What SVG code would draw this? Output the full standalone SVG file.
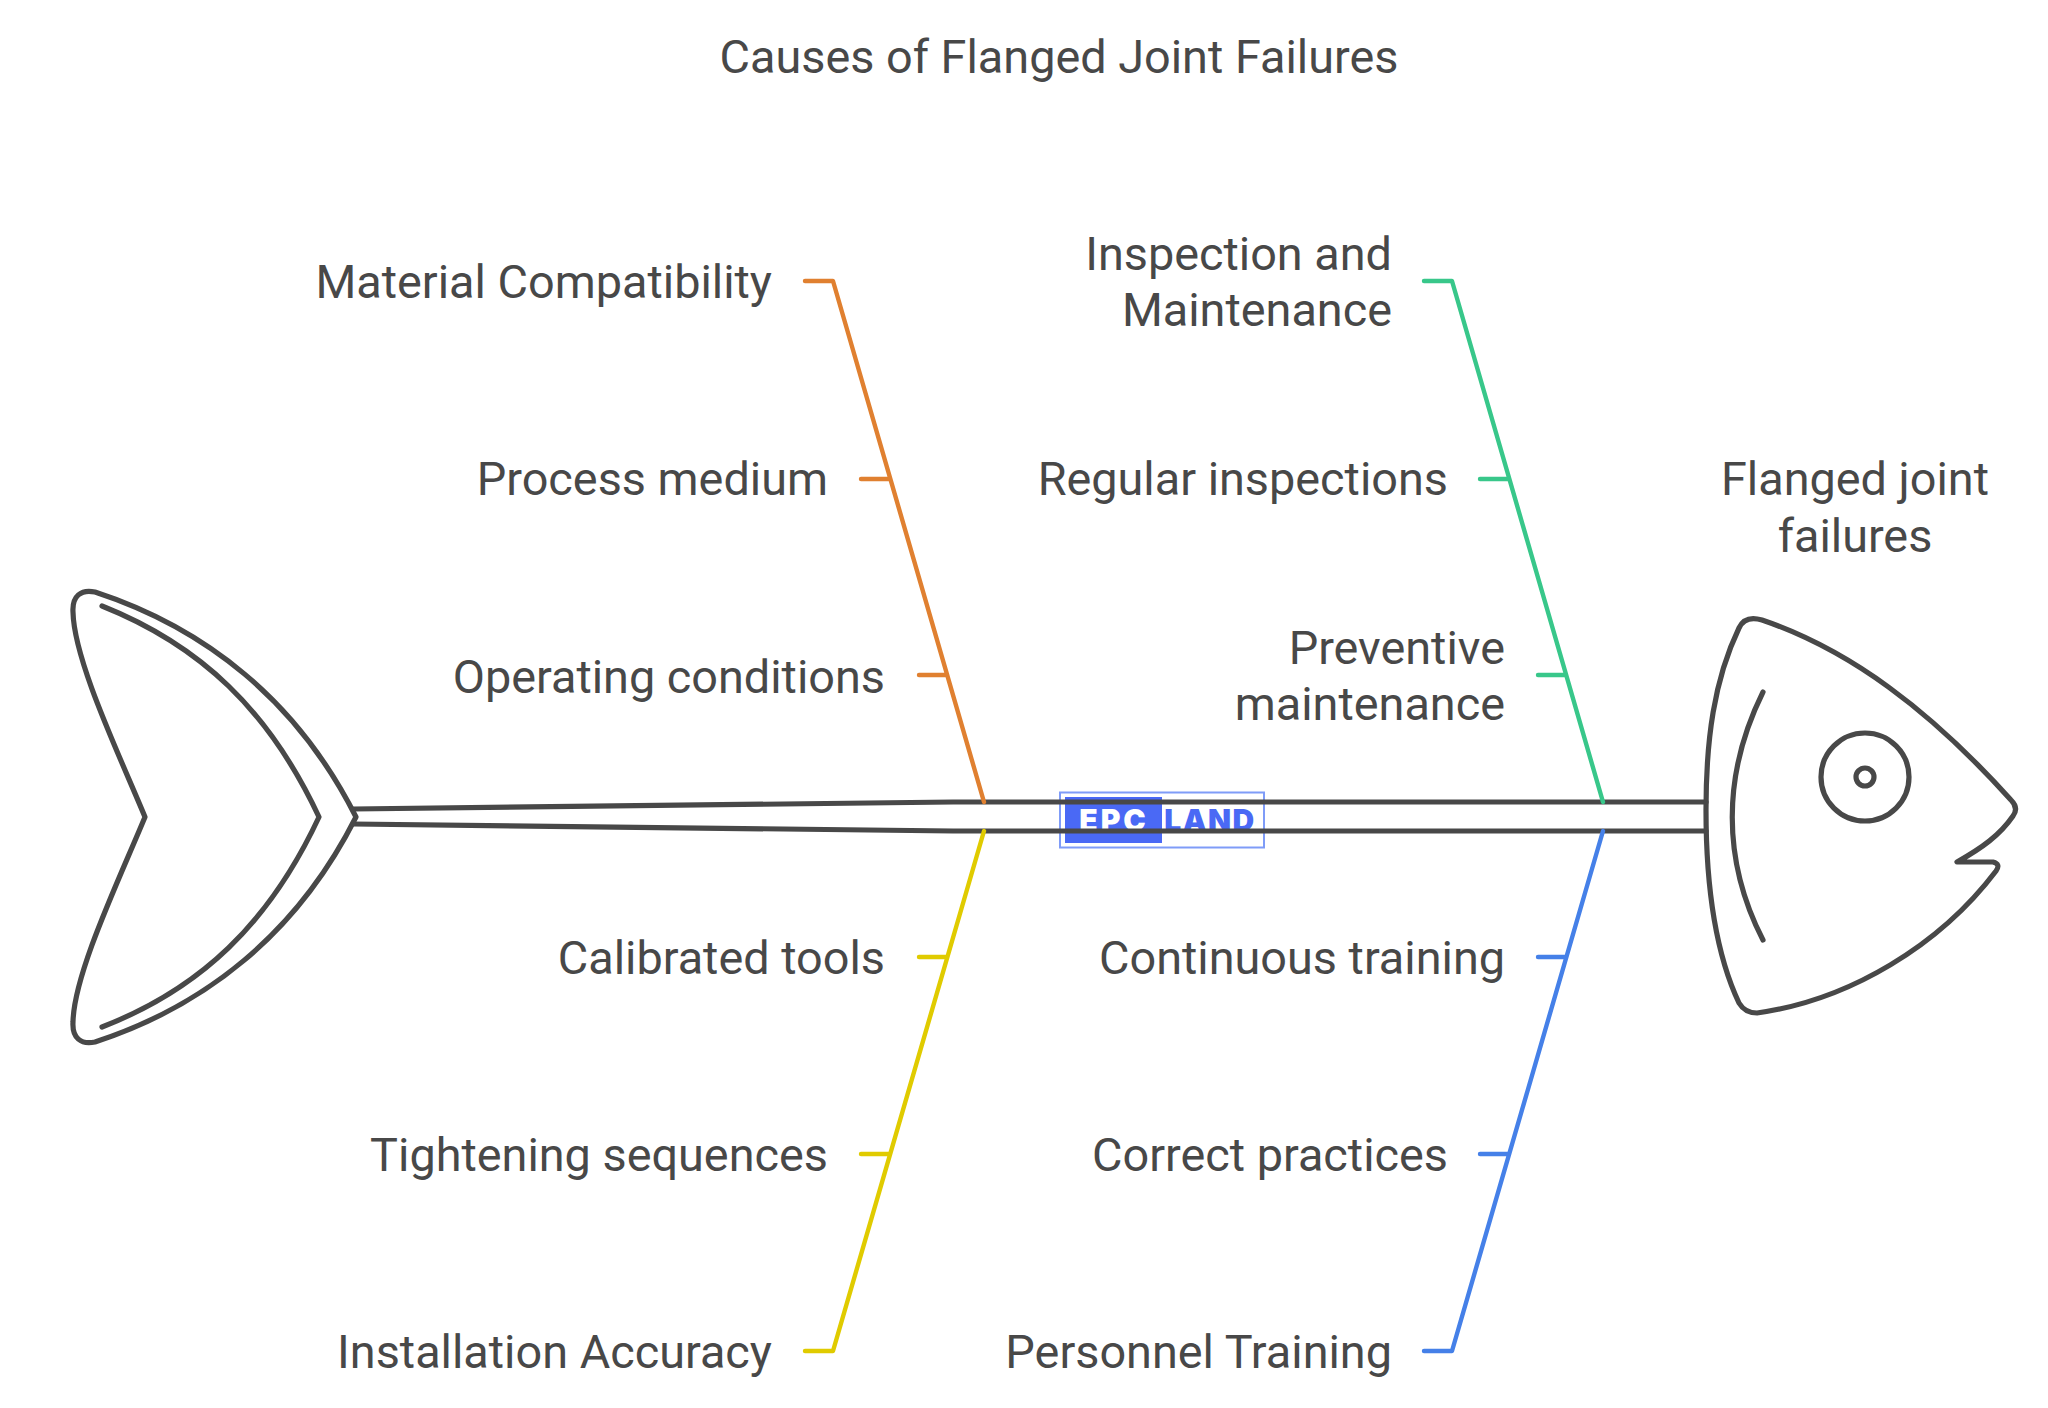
<svg xmlns="http://www.w3.org/2000/svg" width="2048" height="1408" viewBox="0 0 2048 1408">
<style>
text{font-family:Roboto,"Liberation Sans",sans-serif;font-size:46.8px;fill:#484848}
.e{text-anchor:end}.m{text-anchor:middle}
.o{fill:none;stroke:#484848;stroke-width:5.2;stroke-linecap:round;stroke-linejoin:round}
.b{fill:none;stroke-width:4.4;stroke-linecap:round;stroke-linejoin:round}
</style>
<rect width="2048" height="1408" fill="#fff"/>
<text id="title" class="m" x="1059" y="73">Causes of Flanged Joint Failures</text>
<g id="logo">
<rect x="1060" y="792.5" width="204" height="55" fill="#fff" stroke="#7f9cf8" stroke-width="2"/>
<rect x="1065" y="797" width="97" height="46" fill="#4a69f5"/>
<text x="1114" y="831" class="m" style="font-family:Inter,sans-serif;font-size:30px;font-weight:900;fill:#fff;letter-spacing:3px">EPC</text>
<text x="1210" y="831" class="m" style="font-family:Inter,sans-serif;font-size:30px;font-weight:900;fill:#4a69f5;letter-spacing:1.5px">LAND</text>
</g>
<g id="connectors">
<path class="o" d="M353 809L953 802H1706"/>
<path class="o" d="M353 824L953 831H1706"/>
<path class="b" stroke="#e08030" d="M805 281H833L984 802M861 479H889M919 675H947"/>
<path class="b" stroke="#e0cb00" d="M805 1351H833L984 831M861 1154H889M919 957H947"/>
<path class="b" stroke="#38c78a" d="M1424 281H1452L1603 802M1480 479H1509M1538 675H1566"/>
<path class="b" stroke="#4580e8" d="M1424 1351H1452L1603 831M1480 1154H1509M1538 957H1566"/>
</g>
<g id="tail">
<path class="o" d="M145 817C118 752 74 660 73 612C72 596 81 589 95 592C205 628 297 700 356 817C297 934 205 1006 95 1042C81 1045 72 1038 73 1022C74 974 118 882 145 817Z"/>
<path class="o" d="M102 606C200 645 269 710 319 817C269 924 200 989 102 1027"/>
</g>
<g id="head">
<path class="o" d="M1762 620C1850 650 1930 710 2011 800Q2019 808 2013 816C2000 835 1982 848 1957 862H1993Q2001 864 1996 871C1940 945 1850 1000 1757 1013Q1745 1013 1739 1003C1714 950 1706 880 1706 810C1706 740 1714 680 1739 628Q1745 615 1762 620Z"/>
<path class="o" d="M1763 692C1722 775 1722 860 1763 940"/>
<circle class="o" cx="1865" cy="777" r="44"/>
<circle class="o" cx="1865" cy="777" r="9"/>
</g>
<g id="labels">
<text class="e" x="772" y="297.5">Material Compatibility</text>
<text class="e" x="828" y="495">Process medium</text>
<text class="e" x="885" y="692.5">Operating conditions</text>
<text class="e" x="885" y="974">Calibrated tools</text>
<text class="e" x="828" y="1171">Tightening sequences</text>
<text class="e" x="772" y="1368">Installation Accuracy</text>
<text class="e" x="1392" y="270">Inspection and</text>
<text class="e" x="1392" y="326">Maintenance</text>
<text class="e" x="1448" y="495">Regular inspections</text>
<text class="e" x="1505" y="664">Preventive</text>
<text class="e" x="1505" y="720">maintenance</text>
<text class="e" x="1505" y="974">Continuous training</text>
<text class="e" x="1448" y="1171">Correct practices</text>
<text class="e" x="1392" y="1368">Personnel Training</text>
<text class="m" x="1855" y="495">Flanged joint</text>
<text class="m" x="1855" y="552">failures</text>
</g>
</svg>
